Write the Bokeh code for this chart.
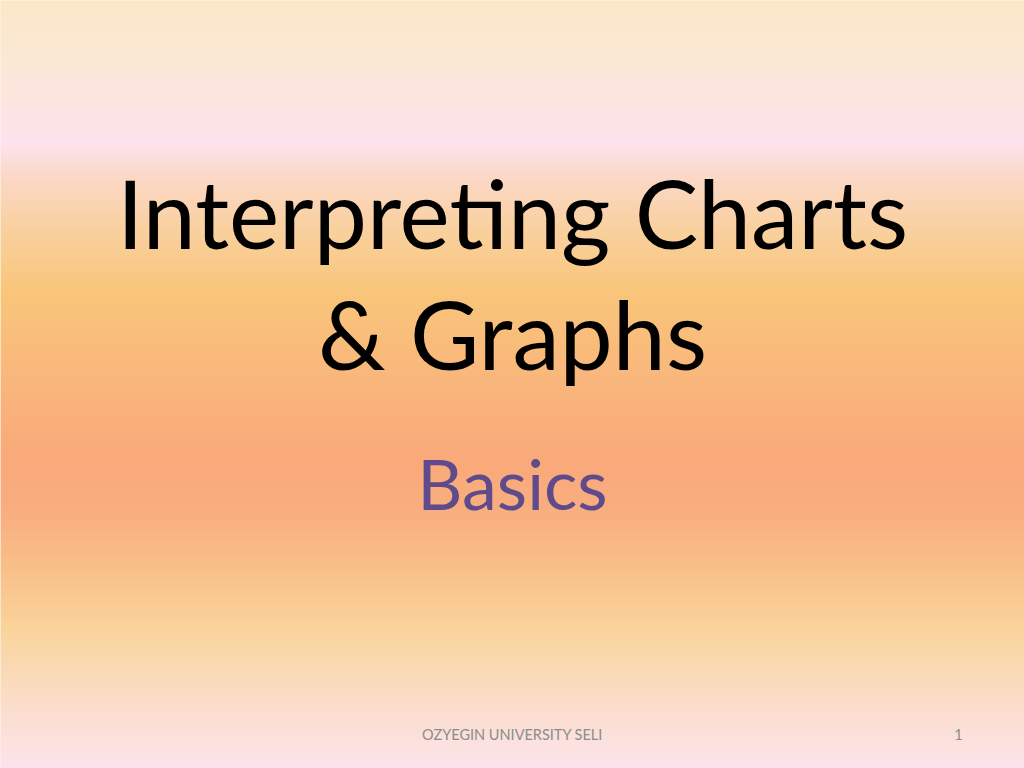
import numpy as np
from bokeh.plotting import figure
from bokeh.models import Range1d
from bokeh.core.properties import value
from bokeh.embed import file_html
from bokeh.resources import INLINE

# Slide content
title_lines = ["Interpreting Charts", "& Graphs"]
subtitle = "Basics"
footer = "OZYEGIN UNIVERSITY SELI"
page_number = "1"

# Background gradient stops (slide y position, colour)
stop_pos = [0, 60, 143, 175, 230, 293, 380, 460, 512, 570, 629, 700, 768]
stop_col = ["#FBE7C6", "#FBE8D5", "#FDE3EE", "#FBD8C8", "#F9D09E", "#F9C57A",
            "#F9B67C", "#F9A97A", "#F9AE80", "#F9C089", "#FAD49C", "#FBDDC8", "#FCE3EC"]

W, H = 1024, 768
p = figure(width=W, height=H, output_backend="svg", toolbar_location=None,
           x_range=Range1d(0, W), y_range=Range1d(H, 0), min_border=0)
p.axis.visible = False
p.grid.visible = False
p.outline_line_color = None
p.background_fill_color = "#FBE7C6"
p.border_fill_color = "#FBE7C6"

# gradient bands
def hex2rgb(h):
    h = h.lstrip("#")
    return np.array([int(h[i:i + 2], 16) for i in (0, 2, 4)], dtype=float)

rgb = np.array([hex2rgb(c) for c in stop_col])
band = 2
ys = np.arange(0, H, band)
mids = ys + band / 2
cols = []
for m in mids:
    r = np.interp(m, stop_pos, rgb[:, 0])
    g = np.interp(m, stop_pos, rgb[:, 1])
    b = np.interp(m, stop_pos, rgb[:, 2])
    cols.append("#%02x%02x%02x" % (int(round(r)), int(round(g)), int(round(b))))
p.quad(left=0, right=W, top=ys, bottom=ys + band + 0.6, fill_color=cols, line_color=None)

font = value("Lato")
p.text(x=[512, 512], y=[211, 332], text=title_lines, text_font=font,
       text_font_size="95px", text_align="center", text_baseline="alphabetic",
       text_color="#000000")
p.text(x=[512], y=[482], text=[subtitle], text_font=font, text_font_size="70px",
       text_align="center", text_baseline="alphabetic", text_color="#5F4B8B")
p.text(x=[512], y=[734], text=[footer], text_font=font, text_font_size="14.5px",
       text_align="center", text_baseline="alphabetic", text_color="#8C8C8C")
p.text(x=[958], y=[734], text=[page_number], text_font=font, text_font_size="14.5px",
       text_align="center", text_baseline="alphabetic", text_color="#8C8C8C")

open("out.html", "w").write(file_html(p, INLINE))
